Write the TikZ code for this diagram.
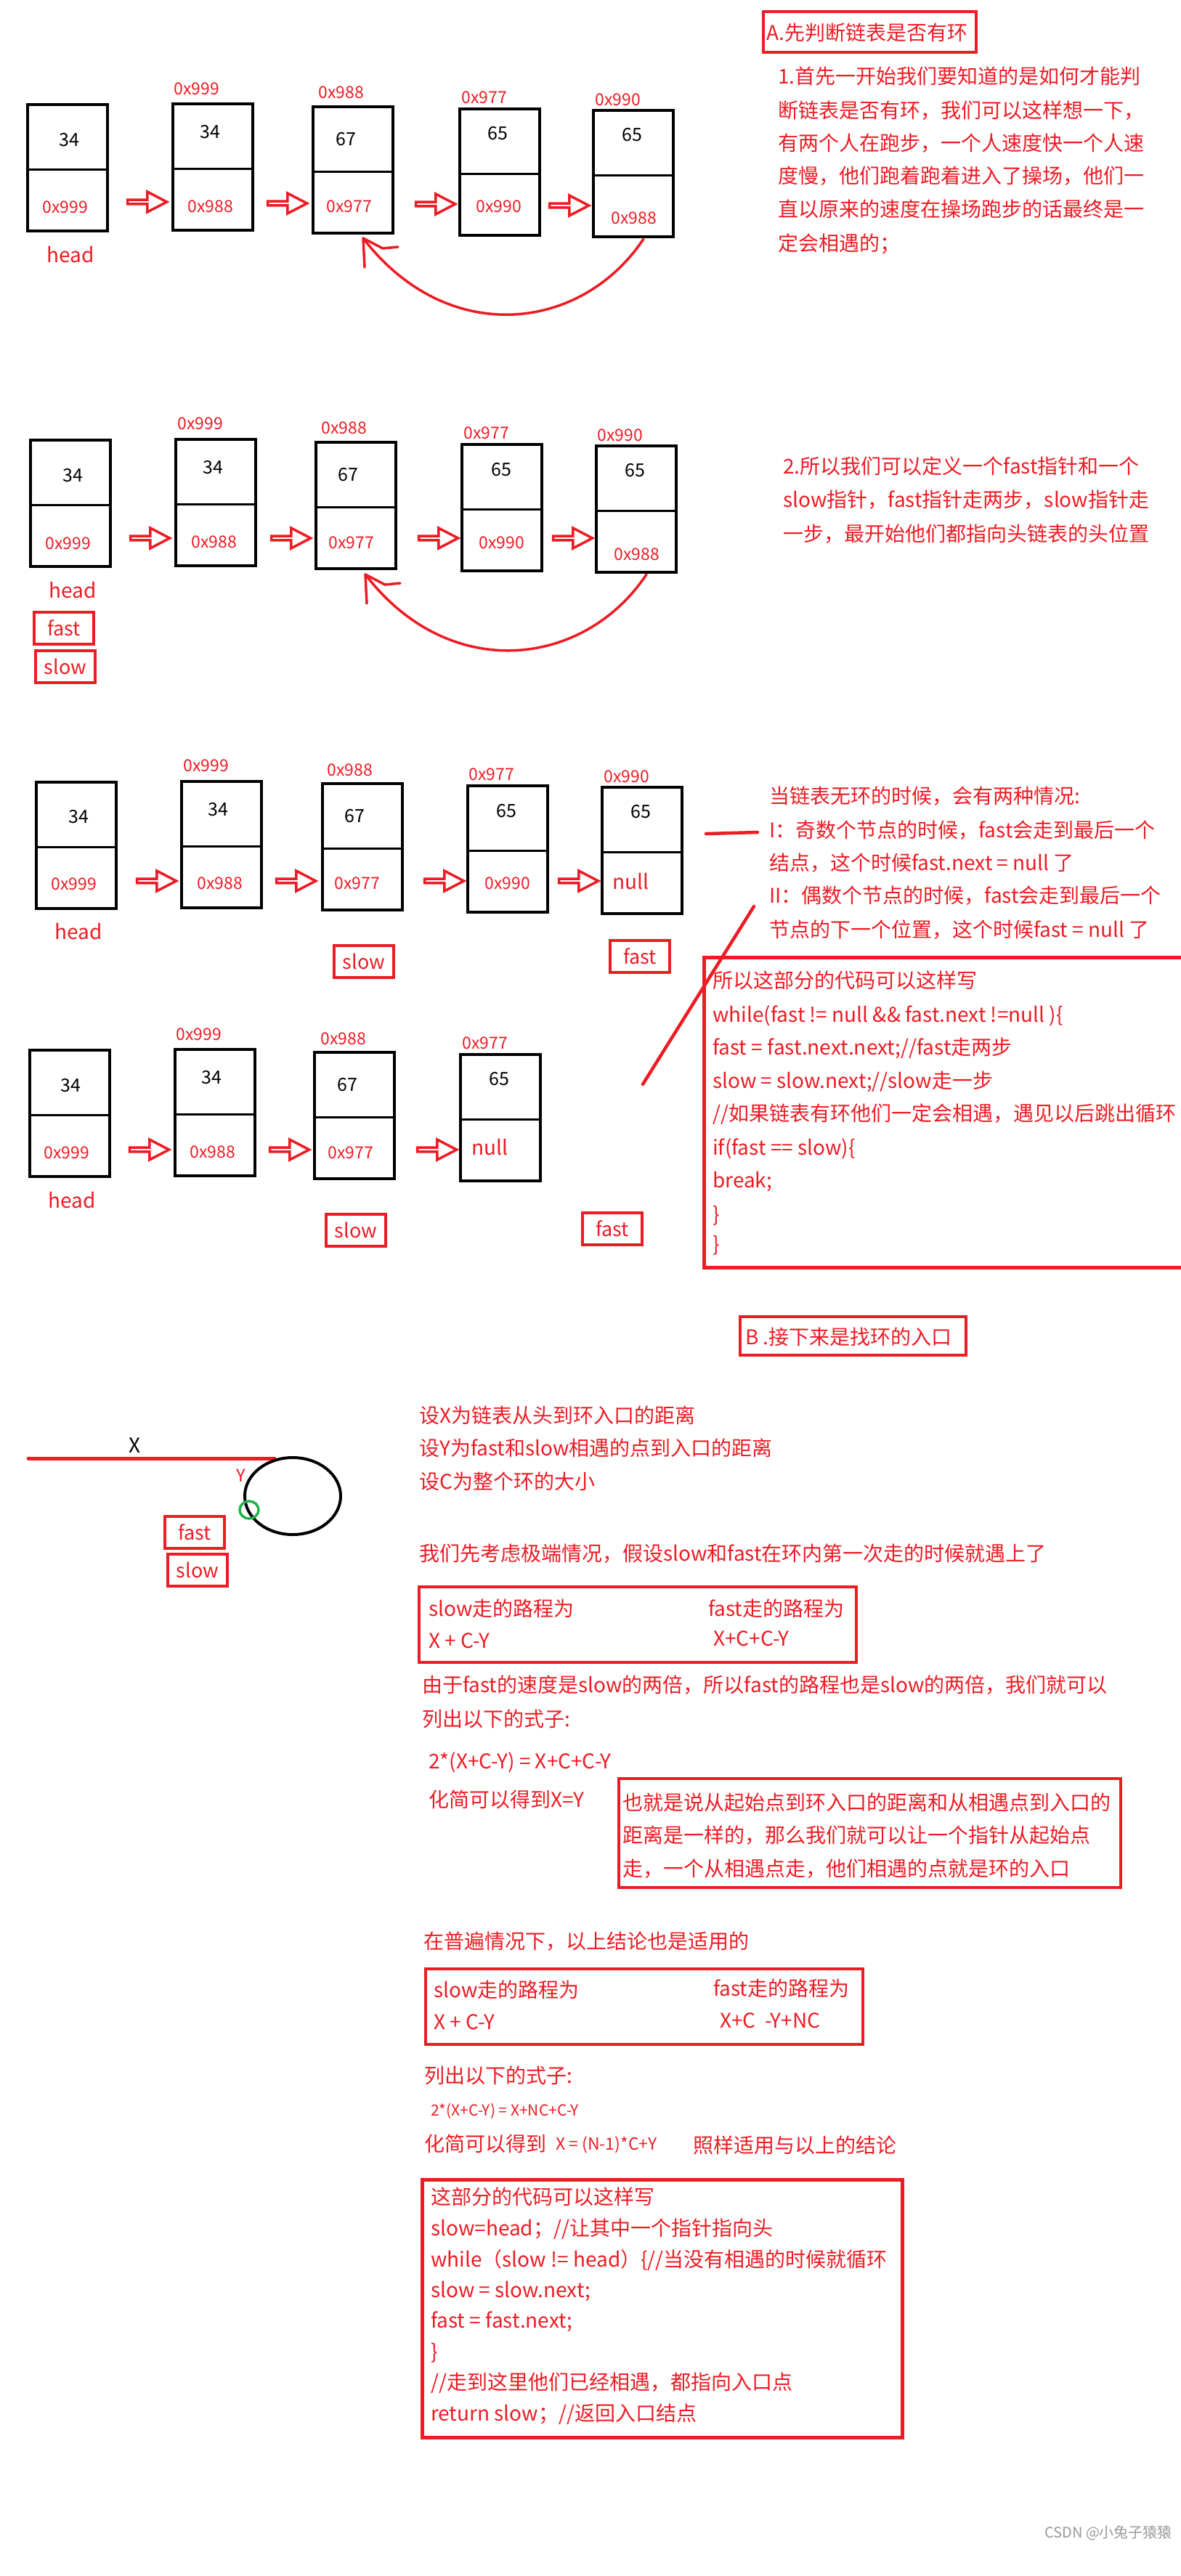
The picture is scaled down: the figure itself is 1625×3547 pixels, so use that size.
\documentclass[tikz,border=0pt]{standalone}
\usepackage{fontspec}
\setmainfont{Noto Sans CJK SC}
\usetikzlibrary{shapes.arrows}
\definecolor{pred}{HTML}{ED1C24}
\definecolor{pgreen}{HTML}{22B14C}
\definecolor{wmgray}{gray}{0.6}
\tikzset{
 cell/.style={draw=black, line width=4.5pt, minimum width=110pt, minimum height=174pt, inner sep=0pt, outer sep=0pt},
 divline/.style={line width=3pt, black},
 valtxt/.style={font=\fontsize{25}{30}\selectfont, text=black, inner sep=0pt},
 ptrtxt/.style={font=\fontsize{23}{28}\selectfont, text=pred, inner sep=0pt},
 headtxt/.style={font=\fontsize{28}{34}\selectfont, text=pred, inner sep=0pt},
 tag/.style={draw=pred, line width=4pt, minimum width=82pt, minimum height=44pt, inner sep=0pt, font=\fontsize{27}{32}\selectfont, text=pred},
 harrow/.style={single arrow, draw=pred, line width=3.5pt, minimum height=54pt, minimum width=28pt, single arrow head extend=7pt, single arrow tip angle=55, inner sep=0pt},
 txt/.style={anchor=base west, inner sep=0pt, font=\fontsize{28}{34}\selectfont, text=pred},
 smalltxt/.style={anchor=base west, inner sep=0pt, font=\fontsize{21}{26}\selectfont, text=pred},
 frame/.style={draw=pred, line width=4.5pt},
 loopline/.style={draw=pred, line width=3.5pt, line cap=round, line join=round},
}
\begin{document}
\begin{tikzpicture}[x=1pt,y=-1pt]
\path[use as bounding box, fill=white] (0,0) rectangle (1625,3547);

% ---------------- Section A title and text
\draw[frame] (1051,16) rectangle (1344,72);
\node[txt] (tA) at (1055,55) {A.先判断链表是否有环};
\node[txt] (p11) at (1071,115) {1.首先一开始我们要知道的是如何才能判};
\node[txt] (p12) at (1071,162) {断链表是否有环，我们可以这样想一下，};
\node[txt] (p13) at (1071,207) {有两个人在跑步，一个人速度快一个人速};
\node[txt] (p14) at (1071,252) {度慢，他们跑着跑着进入了操场，他们一};
\node[txt] (p15) at (1071,298) {直以原来的速度在操场跑步的话最终是一};
\node[txt] (p16) at (1071,345) {定会相遇的；};

% ---------------- Row 1
\node[cell] (b11) at (93,231) {};
\node[cell] (b12) at (293,230) {};
\node[cell] (b13) at (486,234) {};
\node[cell] (b14) at (688,237) {};
\node[cell] (b15) at (872,239) {};
\node[valtxt] (v11) at (95,193) {34};
\node[valtxt] (v12) at (289,182) {34};
\node[valtxt] (v13) at (476,192) {67};
\node[valtxt] (v14) at (685,184) {65};
\node[valtxt] (v15) at (870,186) {65};
\node[ptrtxt] (q11) at (90,285) {0x999};
\node[ptrtxt] (q12) at (290,284) {0x988};
\node[ptrtxt] (q13) at (481,284) {0x977};
\node[ptrtxt] (q14) at (687,284) {0x990};
\node[ptrtxt] (q15) at (873,300) {0x988};
\node[ptrtxt] (a12) at (271,122) {0x999};
\node[ptrtxt] (a13) at (470,127) {0x988};
\node[ptrtxt] (a14) at (667,134) {0x977};
\node[ptrtxt] (a15) at (851,137) {0x990};
\node[headtxt] (h1) at (97,351) {head};
\node[harrow] (r11) at (200,278) {};
\node[harrow] (r12) at (393,280) {};
\node[harrow] (r13) at (597,281) {};
\node[harrow] (r14) at (781,283) {};
\coordinate (t1) at ([xshift=14pt,yshift=-7pt]b13.south);
\draw[loopline] ([xshift=14pt,yshift=-3pt]b15.south) .. controls +(-86,129) and +(115,150) .. (t1);
\draw[loopline] (t1) -- ++(2,40);
\draw[loopline] (t1) -- ++(27,14) -- ++(21,-2);

% ---------------- Row 2
\node[txt] (p21) at (1078,652) {2.所以我们可以定义一个fast指针和一个};
\node[txt] (p22) at (1078,698) {slow指针，fast指针走两步，slow指针走};
\node[txt] (p23) at (1078,745) {一步，最开始他们都指向头链表的头位置};

\node[cell] (b21) at (97,693) {};
\node[cell] (b22) at (297,692) {};
\node[cell] (b23) at (490,696) {};
\node[cell] (b24) at (691,699) {};
\node[cell] (b25) at (876,701) {};
\node[valtxt] (v21) at (100,655) {34};
\node[valtxt] (v22) at (293,644) {34};
\node[valtxt] (v23) at (479,654) {67};
\node[valtxt] (v24) at (690,647) {65};
\node[valtxt] (v25) at (874,648) {65};
\node[ptrtxt] (q21) at (94,748) {0x999};
\node[ptrtxt] (q22) at (295,746) {0x988};
\node[ptrtxt] (q23) at (484,747) {0x977};
\node[ptrtxt] (q24) at (691,747) {0x990};
\node[ptrtxt] (q25) at (877,763) {0x988};
\node[ptrtxt] (a22) at (276,583) {0x999};
\node[ptrtxt] (a23) at (474,589) {0x988};
\node[ptrtxt] (a24) at (670,596) {0x977};
\node[ptrtxt] (a25) at (854,599) {0x990};
\node[headtxt] (h2) at (100,813) {head};
\node[tag] (f2) at (88,865) {fast};
\node[tag] (s2) at (90,918) {slow};
\node[harrow] (r21) at (204,741) {};
\node[harrow] (r22) at (398,741) {};
\node[harrow] (r23) at (601,741) {};
\node[harrow] (r24) at (786,741) {};
\coordinate (t2) at ([xshift=13pt,yshift=-8pt]b23.south);
\draw[loopline] ([xshift=14pt,yshift=-3pt]b25.south) .. controls +(-86,129) and +(115,150) .. (t2);
\draw[loopline] (t2) -- ++(2,40);
\draw[loopline] (t2) -- ++(27,14) -- ++(21,-2);

% ---------------- Row 3
\node[txt] (p31) at (1059,1106) {当链表无环的时候，会有两种情况:};
\node[txt] (p32) at (1059,1153) {I：奇数个节点的时候，fast会走到最后一个};
\node[txt] (p33) at (1059,1198) {结点，这个时候fast.next = null 了};
\node[txt] (p34) at (1059,1243) {II：偶数个节点的时候，fast会走到最后一个};
\node[txt] (p35) at (1059,1290) {节点的下一个位置，这个时候fast = null 了};

\node[cell] (b31) at (105,1164) {};
\node[cell] (b32) at (305,1163) {};
\node[cell] (b33) at (499,1166) {};
\node[cell] (b34) at (699,1169) {};
\node[cell] (b35) at (884,1171) {};
\node[valtxt] (v31) at (108,1125) {34};
\node[valtxt] (v32) at (300,1115) {34};
\node[valtxt] (v33) at (488,1124) {67};
\node[valtxt] (v34) at (697,1117) {65};
\node[valtxt] (v35) at (882,1118) {65};
\node[ptrtxt] (q31) at (102,1217) {0x999};
\node[ptrtxt] (q32) at (303,1216) {0x988};
\node[ptrtxt] (q33) at (492,1216) {0x977};
\node[ptrtxt] (q34) at (699,1216) {0x990};
\node[headtxt] (q35) at (868,1214) {null};
\node[ptrtxt] (a32) at (284,1054) {0x999};
\node[ptrtxt] (a33) at (482,1060) {0x988};
\node[ptrtxt] (a34) at (677,1066) {0x977};
\node[ptrtxt] (a35) at (863,1069) {0x990};
\node[headtxt] (h3) at (108,1283) {head};
\node[tag] (s3) at (501,1324) {slow};
\node[tag] (f3) at (881,1317) {fast};
\node[harrow] (r31) at (213,1213) {};
\node[harrow] (r32) at (405,1213) {};
\node[harrow] (r33) at (609,1213) {};
\node[harrow] (r34) at (794,1213) {};

\coordinate (m1) at (972,1148);
\coordinate (m2) at (1043,1146);
\draw[loopline, line width=4.5pt] (m1) -- (m2);
\coordinate (d1) at (1038,1248);
\coordinate (d2) at (885,1493);
\draw[loopline, line width=4.5pt] (d1) -- (d2);

% code box 1 (right side runs off the page)
\draw[frame, line width=5pt] (1630,1318) -- (969,1318) -- (969,1745) -- (1630,1745);
\node[txt] (c11) at (981,1360) {所以这部分的代码可以这样写};
\node[txt] (c12) at (981,1407) {while(fast != null \&\& fast.next !=null )\{};
\node[txt] (c13) at (981,1452) {fast = fast.next.next;//fast走两步};
\node[txt] (c14) at (981,1498) {slow = slow.next;//slow走一步};
\node[txt] (c15) at (981,1543) {//如果链表有环他们一定会相遇，遇见以后跳出循环};
\node[txt] (c16) at (981,1590) {if(fast == slow)\{};
\node[txt] (c17) at (981,1635) {break;};
\node[txt] (c18) at (981,1682) {\}};
\node[txt] (c19) at (981,1723) {\}};

% ---------------- Row 4
\node[cell] (b41) at (96,1533) {};
\node[cell] (b42) at (296,1532) {};
\node[cell] (b43) at (488,1536) {};
\node[cell] (b44) at (689,1539) {};
\node[valtxt] (v41) at (97,1495) {34};
\node[valtxt] (v42) at (291,1484) {34};
\node[valtxt] (v43) at (478,1494) {67};
\node[valtxt] (v44) at (687,1486) {65};
\node[ptrtxt] (q41) at (92,1587) {0x999};
\node[ptrtxt] (q42) at (293,1586) {0x988};
\node[ptrtxt] (q43) at (483,1587) {0x977};
\node[headtxt] (q44) at (674,1580) {null};
\node[ptrtxt] (a42) at (274,1424) {0x999};
\node[ptrtxt] (a43) at (473,1430) {0x988};
\node[ptrtxt] (a44) at (668,1436) {0x977};
\node[headtxt] (h4) at (99,1653) {head};
\node[tag] (s4) at (490,1694) {slow};
\node[tag] (f4) at (843,1692) {fast};
\node[harrow] (r41) at (203,1583) {};
\node[harrow] (r42) at (396,1583) {};
\node[harrow] (r43) at (599,1583) {};

\foreach \b in {b11,b12,b13,b14,b15,b21,b22,b23,b24,b25,b31,b32,b33,b34,b35,b41,b42,b43,b44}
  \draw[divline] ([yshift=-89pt]\b.north west) -- ([yshift=-89pt]\b.north east);

% ---------------- Section B
\draw[frame] (1019,1813) rectangle (1330,1866);
\node[txt] (tB) at (1026,1851) {B .接下来是找环的入口};

\coordinate (xs) at (39,2008);
\coordinate (xe) at (378,2008);
\draw[pred, line width=5pt, line cap=round] (xs) -- (xe);
\node[font=\fontsize{28}{34}\selectfont, inner sep=0pt] (lx) at (186,1990) {X};
\draw[black, line width=4pt] (403,2060) ellipse [x radius=66, y radius=53];
\node[font=\fontsize{24}{28}\selectfont, text=pred, inner sep=0pt] (ly) at (332,2032) {Y};
\draw[pgreen, line width=3.5pt] (343,2079) ellipse [x radius=13, y radius=12];
\node[tag] (fB) at (268,2110) {fast};
\node[tag] (sB) at (272,2162) {slow};

\node[txt] (e1) at (577,1959) {设X为链表从头到环入口的距离};
\node[txt] (e2) at (577,2004) {设Y为fast和slow相遇的点到入口的距离};
\node[txt] (e3) at (577,2050) {设C为整个环的大小};
\node[txt] (e4) at (577,2149) {我们先考虑极端情况，假设slow和fast在环内第一次走的时候就遇上了};

\draw[frame] (577,2185) rectangle (1179,2289);
\node[txt] (g1) at (590,2225) {slow走的路程为};
\node[txt] (g2) at (975,2225) {fast走的路程为};
\node[txt] (g3) at (590,2269) {X + C-Y};
\node[txt] (g4) at (982,2266) {X+C+C-Y};

\node[txt] (e5) at (581,2330) {由于fast的速度是slow的两倍，所以fast的路程也是slow的两倍，我们就可以};
\node[txt] (e6) at (581,2377) {列出以下的式子:};
\node[txt] (e7) at (590,2435) {2*(X+C-Y) = X+C+C-Y};
\node[txt] (e8) at (590,2488) {化简可以得到X=Y};

\draw[frame] (852,2449) rectangle (1543,2599);
\node[txt] (k1) at (857,2492) {也就是说从起始点到环入口的距离和从相遇点到入口的};
\node[txt] (k2) at (857,2537) {距离是一样的，那么我们就可以让一个指针从起始点};
\node[txt] (k3) at (857,2583) {走，一个从相遇点走，他们相遇的点就是环的入口};

\node[txt] (e9) at (583,2683) {在普遍情况下，以上结论也是适用的};
\draw[frame] (586,2711) rectangle (1188,2815);
\node[txt] (n1) at (597,2750) {slow走的路程为};
\node[txt] (n2) at (982,2748) {fast走的路程为};
\node[txt] (n3) at (597,2794) {X + C-Y};
\node[txt] (n4) at (991,2792) {X+C\ \ -Y+NC};

\node[txt] (e10) at (584,2868) {列出以下的式子:};
\node[smalltxt] (e11) at (593,2913) {2*(X+C-Y) = X+NC+C-Y};
\node[txt] (e12) at (584,2962) {化简可以得到};
\node[smalltxt, font=\fontsize{23}{28}\selectfont] (e13) at (765,2960) {X = (N-1)*C+Y};
\node[txt] (e14) at (954,2964) {照样适用与以上的结论};

\draw[frame, line width=5pt] (581,3001) rectangle (1242,3356);
\node[txt] (w1) at (593,3035) {这部分的代码可以这样写};
\node[txt] (w2) at (593,3078) {slow=head；//让其中一个指针指向头};
\node[txt] (w3) at (593,3121) {while（slow != head）\{//当没有相遇的时候就循环};
\node[txt] (w4) at (593,3163) {slow = slow.next;};
\node[txt] (w5) at (593,3205) {fast = fast.next;};
\node[txt] (w6) at (593,3248) {\}};
\node[txt] (w7) at (593,3290) {//走到这里他们已经相遇，都指向入口点};
\node[txt] (w8) at (593,3333) {return slow；//返回入口结点};

\node[anchor=base west, inner sep=0pt, font=\fontsize{20}{24}\selectfont, text=wmgray] (wm) at (1438,3494) {CSDN @小兔子猿猿};
\end{tikzpicture}
\end{document}
